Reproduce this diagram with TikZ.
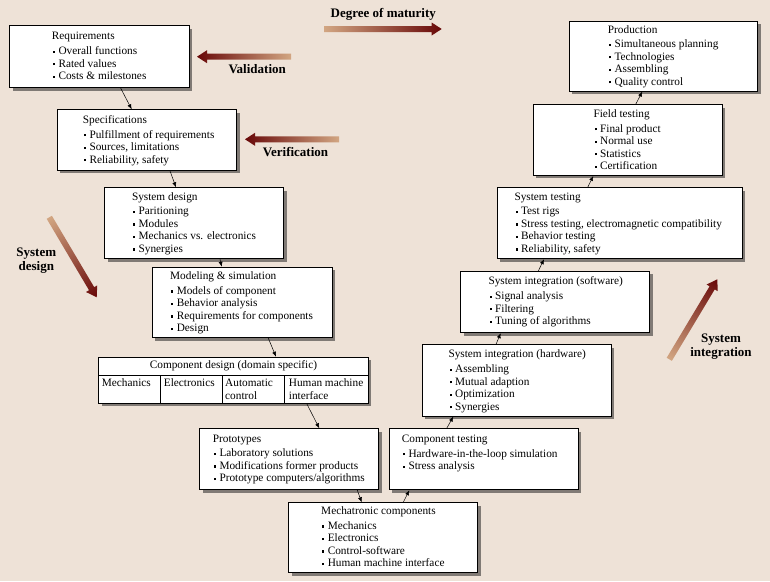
\documentclass[tikz,border=0pt]{standalone}
\usepackage{fontspec}
\setmainfont{Liberation Serif}
\usetikzlibrary{shadows,calc,arrows.meta}
\definecolor{bgc}{RGB}{238,226,215}
\definecolor{tanc}{RGB}{210,166,130}
\definecolor{darkc}{RGB}{104,8,8}
\newcommand\bitem{\hspace{1pt}\rule[1.8pt]{2.2pt}{2.2pt}\hspace{3.4pt}}
\newcommand\gradarrow[4]{%
\begin{scope}[transform canvas={shift={(#1,#2)},rotate=#3}]
\shade[left color=tanc,right color=darkc] (0,-3) -- (#4-10,-3) -- (#4-10,-6.5) -- (#4,0) -- (#4-10,6.5) -- (#4-10,3) -- (0,3) -- cycle;
\end{scope}}
\tikzset{
  box/.style={draw=black,line width=0.9pt,fill=white,anchor=north west,inner sep=0pt,
    drop shadow={shadow xshift=3pt,shadow yshift=-3pt,fill=black!85,opacity=0.55}},
  txt/.style={anchor=base west,inner sep=0pt,font=\fontsize{11.3}{12.5}\selectfont},
  lbl/.style={anchor=base,inner sep=0pt,font=\fontsize{13}{14}\selectfont\bfseries},
  conn/.style={line width=0.5pt,-{Latex[length=5pt,width=4pt]}}
}
\begin{document}
\begin{tikzpicture}[x=1pt,y=-1pt]
\fill[bgc] (0,0) rectangle (770,581);
\useasboundingbox (0,0) rectangle (770,581);

% gradient arrows
\gradarrow{324}{29}{0}{117.7}
\gradarrow{291}{56.7}{180}{94}
\gradarrow{339}{139.3}{180}{94}
\gradarrow{49.3}{217.3}{-59.35}{93}
\gradarrow{669.3}{359.3}{59.04}{93.3}

\node[lbl] (lmat) at (383.3,17.3) {Degree of maturity};
\node[lbl] (lval) at (257.2,73.3) {Validation};
\node[lbl] (lver) at (295.5,156.7) {Verification};
\node[lbl] (lsd) at (36.3,256) {\begin{tabular}[t]{@{}c@{}}System\\ design\end{tabular}};
\node[lbl] (lsi) at (721,342.7) {\begin{tabular}[t]{@{}c@{}}System\\ integration\end{tabular}};

% boxes
\node[box,minimum width=179.4pt,minimum height=62pt] (req) at (9.3,25.3) {};
\node[txt] (reqt) at ($(req.north west)+(42.4,14.5)$) {\begin{tabular}[t]{@{}l@{}}Requirements\\[2.2pt]
\bitem Overall functions\\ \bitem Rated values\\ \bitem Costs \& milestones\end{tabular}};

\node[box,minimum width=179.6pt,minimum height=60.7pt] (spec) at (56.7,109.3) {};
\node[txt] (spect) at ($(spec.north west)+(26,14)$) {\begin{tabular}[t]{@{}l@{}}Specifications\\[2.2pt]
\bitem Pulfillment of requirements\\ \bitem Sources, limitations\\ \bitem Reliability, safety\end{tabular}};

\node[box,minimum width=179pt,minimum height=71pt] (sysdes) at (104.3,187.3) {};
\node[txt] (sysdest) at ($(sysdes.north west)+(27.5,12.8)$) {\begin{tabular}[t]{@{}l@{}}System design\\[2.2pt]
\bitem Paritioning\\ \bitem Modules\\ \bitem Mechanics vs. electronics\\ \bitem Synergies\end{tabular}};

\node[box,minimum width=180pt,minimum height=70.6pt] (model) at (151.7,266.7) {};
\node[txt] (modelt) at ($(model.north west)+(18.3,13)$) {\begin{tabular}[t]{@{}l@{}}Modeling \& simulation\\[2.2pt]
\bitem Models of component\\ \bitem Behavior analysis\\ \bitem Requirements for components\\ \bitem Design\end{tabular}};

\node[box,minimum width=269.4pt,minimum height=46pt] (compdes) at (98.3,356.7) {};
\draw[line width=0.9pt] ($(compdes.north west)+(0,18.3)$) -- ($(compdes.north east)+(0,18.3)$);
\foreach \dx in {62,124,186}
  \draw[line width=0.9pt] ($(compdes.north west)+(\dx,18.3)$) -- ($(compdes.south west)+(\dx,0)$);
\node[txt,anchor=base] (cdt) at ($(compdes.north)+(0,12)$) {Component design (domain specific)};
\node[txt] (cd1) at ($(compdes.north west)+(3.4,30)$) {Mechanics};
\node[txt] (cd2) at ($(compdes.north west)+(65.4,30)$) {Electronics};
\node[txt] (cd3) at ($(compdes.north west)+(126.7,30)$) {\begin{tabular}[t]{@{}l@{}}Automatic\\ control\end{tabular}};
\node[txt] (cd4) at ($(compdes.north west)+(190.4,30)$) {\begin{tabular}[t]{@{}l@{}}Human machine\\ interface\end{tabular}};

\node[box,minimum width=179pt,minimum height=61pt] (proto) at (199.3,428.3) {};
\node[txt] (protot) at ($(proto.north west)+(13.4,13.8)$) {\begin{tabular}[t]{@{}l@{}}Prototypes\\[2.2pt]
\bitem Laboratory solutions\\ \bitem Modifications former products\\ \bitem Prototype computers/algorithms\end{tabular}};

\node[box,minimum width=189pt,minimum height=70pt] (mech) at (288.3,502.3) {};
\node[txt] (mecht) at ($(mech.north west)+(32.7,12.3)$) {\begin{tabular}[t]{@{}l@{}}Mechatronic components\\[2.2pt]
\bitem Mechanics\\ \bitem Electronics\\ \bitem Control-software\\ \bitem Human machine interface\end{tabular}};

\node[box,minimum width=189pt,minimum height=61pt] (comptest) at (388.7,428.3) {};
\node[txt] (comptestt) at ($(comptest.north west)+(13,14)$) {\begin{tabular}[t]{@{}l@{}}Component testing\\[2.2pt]
\bitem Hardware-in-the-loop simulation\\ \bitem Stress analysis\end{tabular}};

\node[box,minimum width=189pt,minimum height=71.4pt] (hw) at (421.7,344.3) {};
\node[txt] (hwt) at ($(hw.north west)+(26.6,13.6)$) {\begin{tabular}[t]{@{}l@{}}System integration (hardware)\\[2.2pt]
\bitem Assembling\\ \bitem Mutual adaption\\ \bitem Optimization\\ \bitem Synergies\end{tabular}};

\node[box,minimum width=189pt,minimum height=61.3pt] (sw) at (460.3,271) {};
\node[txt] (swt) at ($(sw.north west)+(28,13.8)$) {\begin{tabular}[t]{@{}l@{}}System integration (software)\\[2.2pt]
\bitem Signal analysis\\ \bitem Filtering\\ \bitem Tuning of algorithms\end{tabular}};

\node[box,minimum width=245pt,minimum height=71pt] (systest) at (496.7,187.3) {};
\node[txt] (systestt) at ($(systest.north west)+(17.6,12.8)$) {\begin{tabular}[t]{@{}l@{}}System testing\\[2.2pt]
\bitem Test rigs\\ \bitem Stress testing, electromagnetic compatibility\\ \bitem Behavior testing\\ \bitem Reliability, safety\end{tabular}};

\node[box,minimum width=189pt,minimum height=70.7pt] (field) at (532.7,104.3) {};
\node[txt] (fieldt) at ($(field.north west)+(60.6,13)$) {\begin{tabular}[t]{@{}l@{}}Field testing\\[2.2pt]
\bitem Final product\\ \bitem Normal use\\ \bitem Statistics\\ \bitem Certification\end{tabular}};

\node[box,minimum width=188.3pt,minimum height=69.7pt] (prod) at (569,21) {};
\node[txt] (prodt) at ($(prod.north west)+(38.7,12)$) {\begin{tabular}[t]{@{}l@{}}Production\\[2.2pt]
\bitem Simultaneous planning\\ \bitem Technologies\\ \bitem Assembling\\ \bitem Quality control\end{tabular}};

% connectors
\draw[conn] ($(req.south west)+(111.4,0)$) -- ($(spec.north west)+(75,0)$);
\draw[conn] ($(spec.south west)+(113.3,0)$) -- ($(sysdes.north west)+(71.7,0)$);
\draw[conn] ($(sysdes.south west)+(115.7,0)$) -- ($(model.north west)+(70,0)$);
\draw[conn] ($(model.south west)+(116.6,0)$) -- ($(compdes.north west)+(177.7,0)$);
\draw[conn] ($(compdes.south west)+(208.4,0)$) -- ($(proto.north west)+(120,0)$);
\draw[conn] ($(proto.south west)+(158,0)$) -- ($(mech.north west)+(73.4,0)$);
\draw[conn] ($(mech.north west)+(115,0)$) -- ($(comptest.south west)+(20.6,0)$);
\draw[conn] ($(comptest.north west)+(58,0)$) -- ($(hw.south west)+(31.6,0)$);
\draw[conn] ($(hw.north west)+(74.3,0)$) -- ($(sw.south west)+(40.4,0)$);
\draw[conn] ($(sw.north west)+(78,0)$) -- ($(systest.south west)+(47.3,0)$);
\draw[conn] ($(systest.north west)+(91,0)$) -- ($(field.south west)+(60.6,0)$);
\draw[conn] ($(field.north west)+(103,0)$) -- ($(prod.south west)+(73.3,0)$);
\end{tikzpicture}
\end{document}
